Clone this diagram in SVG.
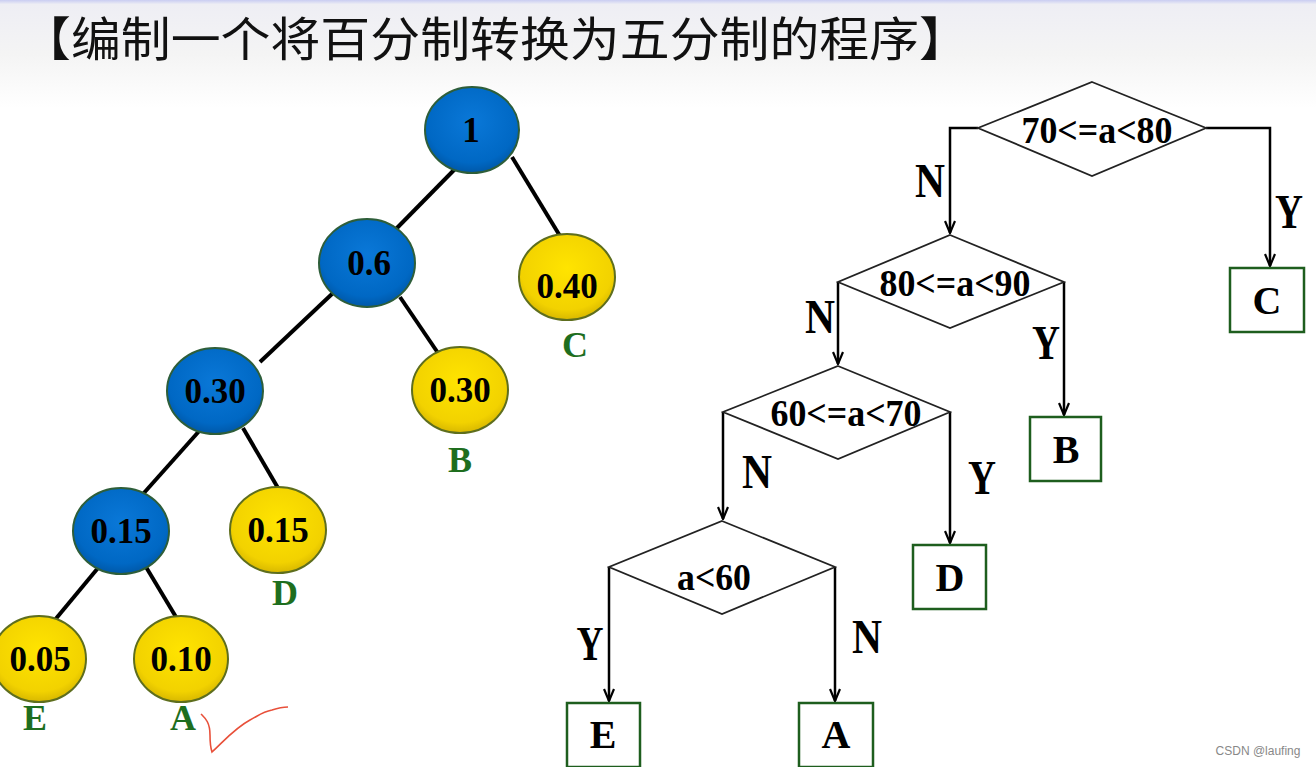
<svg xmlns="http://www.w3.org/2000/svg" width="1316" height="767" viewBox="0 0 1316 767">
<defs>
<linearGradient id="band" x1="0" y1="0" x2="0" y2="1">
<stop offset="0" stop-color="#c9cdf2"/>
<stop offset="0.04" stop-color="#eeeef4"/>
<stop offset="0.5" stop-color="#f4f4f4"/>
<stop offset="1" stop-color="#ffffff"/>
</linearGradient>
<radialGradient id="blue" cx="0.5" cy="0.4" r="0.6">
<stop offset="0" stop-color="#0a78d8"/>
<stop offset="0.8" stop-color="#0068c4"/>
<stop offset="1" stop-color="#0058a8"/>
</radialGradient>
<radialGradient id="yellow" cx="0.5" cy="0.4" r="0.6">
<stop offset="0" stop-color="#ffe400"/>
<stop offset="0.8" stop-color="#f2d200"/>
<stop offset="1" stop-color="#d8b800"/>
</radialGradient>
<marker id="arr" viewBox="0 0 14 12" refX="13" refY="6" markerWidth="14" markerHeight="12" markerUnits="userSpaceOnUse" orient="auto">
<path d="M1,1 L13,6 L1,11" fill="none" stroke="#000" stroke-width="2.2"/>
</marker>
<style>
.bn{fill:url(#blue);stroke:#2e5e3a;stroke-width:2}
.yn{fill:url(#yellow);stroke:#5e6e1e;stroke-width:2}
.nt{font-family:"Liberation Serif","Times New Roman",serif;font-weight:bold;font-size:35px;fill:#000;text-anchor:middle}
.gl{font-family:"Liberation Serif","Times New Roman",serif;font-weight:bold;font-size:36px;fill:#1e6e1e;text-anchor:middle}
.edge{stroke:#000;stroke-width:4;fill:none}
.flow{stroke:#000;stroke-width:2.5;fill:none}
.dia{stroke:#222;stroke-width:1.8;fill:#fff}
.box{stroke:#1e5e1e;stroke-width:2.5;fill:#fff}
.dt{font-family:"Liberation Serif","Times New Roman",serif;font-weight:bold;font-size:38px;fill:#000;text-anchor:middle}
.bt{font-family:"Liberation Serif","Times New Roman",serif;font-weight:bold;font-size:40px;fill:#000;text-anchor:middle}
.yl{font-family:"Liberation Serif","Times New Roman",serif;font-weight:bold;font-size:48px;fill:#000;text-anchor:middle}
</style>
</defs>
<rect x="0" y="0" width="1316" height="767" fill="#fff"/>
<rect x="0" y="0" width="1316" height="108" fill="url(#band)"/>
<text id="title" x="21" y="56" font-family="Noto Sans CJK SC, sans-serif" font-size="47" font-weight="400" fill="#111" textLength="948" lengthAdjust="spacingAndGlyphs">【编制一个将百分制转换为五分制的程序】</text>

<g id="tree-edges">
<line class="edge" x1="455" y1="169" x2="395" y2="230"/>
<line class="edge" x1="512" y1="157" x2="560" y2="236"/>
<line class="edge" x1="333" y1="293" x2="260" y2="362"/>
<line class="edge" x1="400" y1="297" x2="438" y2="353"/>
<line class="edge" x1="201" y1="429" x2="143" y2="494"/>
<line class="edge" x1="243" y1="428" x2="278" y2="488"/>
<line class="edge" x1="98" y1="568" x2="54" y2="621"/>
<line class="edge" x1="146" y1="567" x2="176" y2="617"/>
</g>

<g id="n1"><ellipse class="bn" cx="472" cy="130" rx="47" ry="43"/><text class="nt" x="471" y="142">1</text></g>
<g id="n06"><ellipse class="bn" cx="367" cy="263" rx="48" ry="44"/><text class="nt" x="369" y="275">0.6</text></g>
<g id="n040"><ellipse class="yn" cx="567" cy="277" rx="48" ry="43"/><text class="nt" x="567" y="298">0.40</text><text class="gl" x="575" y="357">C</text></g>
<g id="n030b"><ellipse class="bn" cx="215" cy="391" rx="48" ry="43"/><text class="nt" x="215" y="403">0.30</text></g>
<g id="n030y"><ellipse class="yn" cx="460" cy="390" rx="48" ry="43"/><text class="nt" x="460" y="402">0.30</text><text class="gl" x="460" y="472">B</text></g>
<g id="n015b"><ellipse class="bn" cx="121" cy="531" rx="48" ry="43"/><text class="nt" x="121" y="543">0.15</text></g>
<g id="n015y"><ellipse class="yn" cx="278" cy="530" rx="48" ry="43"/><text class="nt" x="278" y="542">0.15</text><text class="gl" x="285" y="605">D</text></g>
<g id="n005"><ellipse class="yn" cx="39" cy="659" rx="47" ry="43"/><text class="nt" x="40" y="671">0.05</text><text class="gl" x="35" y="730">E</text></g>
<g id="n010"><ellipse class="yn" cx="181" cy="659" rx="47" ry="43"/><text class="nt" x="181" y="671">0.10</text><text class="gl" x="183" y="730">A</text></g>

<path id="check" d="M201,714 C205,718 210,722 210,735 C210,742 211,749 212,752 C225,740 235,728 250,720 C258,716 262,712 272,710 C278,708 283,707 288,707" fill="none" stroke="#e8503a" stroke-width="1.6"/>

<g id="connectors">
<path class="flow" d="M978,128 H950 V233" marker-end="url(#arr)"/>
<path class="flow" d="M1206,128 H1270 V266" marker-end="url(#arr)"/>
<path class="flow" d="M838,282 V364" marker-end="url(#arr)"/>
<path class="flow" d="M1064,282 V415" marker-end="url(#arr)"/>
<path class="flow" d="M723,412 V519" marker-end="url(#arr)"/>
<path class="flow" d="M950,412 V543" marker-end="url(#arr)"/>
<path class="flow" d="M609,567 V701" marker-end="url(#arr)"/>
<path class="flow" d="M835,567 V701" marker-end="url(#arr)"/>
<text class="yl" x="930" y="197" textLength="30" lengthAdjust="spacingAndGlyphs">N</text>
<text class="yl" x="1289" y="228" textLength="28" lengthAdjust="spacingAndGlyphs">Y</text>
<text class="yl" x="820" y="333" textLength="30" lengthAdjust="spacingAndGlyphs">N</text>
<text class="yl" x="1046" y="359" textLength="28" lengthAdjust="spacingAndGlyphs">Y</text>
<text class="yl" x="757" y="488" textLength="30" lengthAdjust="spacingAndGlyphs">N</text>
<text class="yl" x="982" y="494" textLength="28" lengthAdjust="spacingAndGlyphs">Y</text>
<text class="yl" x="590" y="660" textLength="27" lengthAdjust="spacingAndGlyphs">Y</text>
<text class="yl" x="867" y="653" textLength="30" lengthAdjust="spacingAndGlyphs">N</text>
</g>

<g id="d1"><polygon class="dia" points="1092,82 1206,128 1092,176 978,128"/><text class="dt" x="1097" y="143" textLength="151" lengthAdjust="spacingAndGlyphs">70&lt;=a&lt;80</text></g>
<g id="d2"><polygon class="dia" points="950,235 1064,282 950,328 838,282"/><text class="dt" x="955" y="296" textLength="151" lengthAdjust="spacingAndGlyphs">80&lt;=a&lt;90</text></g>
<g id="d3"><polygon class="dia" points="838,366 950,412 838,459 723,412"/><text class="dt" x="846" y="426" textLength="151" lengthAdjust="spacingAndGlyphs">60&lt;=a&lt;70</text></g>
<g id="d4"><polygon class="dia" points="722,521 835,567 722,614 609,567"/><text class="dt" x="714" y="590" textLength="74" lengthAdjust="spacingAndGlyphs">a&lt;60</text></g>

<g id="bC"><rect class="box" x="1230" y="268" width="74" height="64"/><text class="bt" x="1267" y="314">C</text></g>
<g id="bB"><rect class="box" x="1030" y="417" width="71" height="64"/><text class="bt" x="1066" y="463">B</text></g>
<g id="bD"><rect class="box" x="913" y="545" width="73" height="64"/><text class="bt" x="950" y="591">D</text></g>
<g id="bE"><rect class="box" x="567" y="703" width="73" height="64"/><text class="bt" x="603" y="748">E</text></g>
<g id="bA"><rect class="box" x="799" y="703" width="74" height="64"/><text class="bt" x="836" y="748">A</text></g>

<text id="wm" x="1258" y="755" font-family="Liberation Sans, Arial, sans-serif" font-size="12" fill="#888" text-anchor="middle">CSDN @laufing</text>
</svg>
